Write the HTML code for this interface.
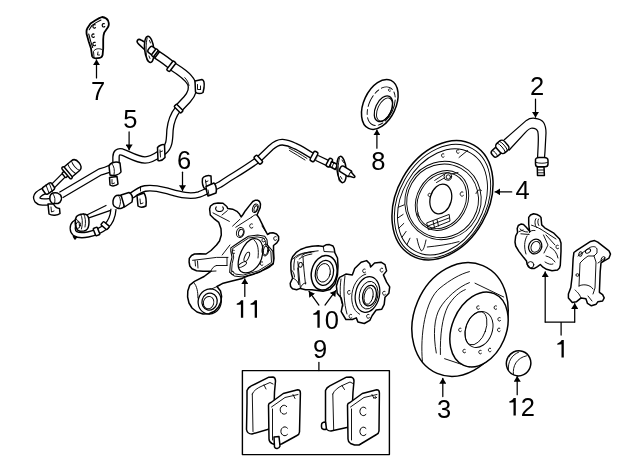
<!DOCTYPE html>
<html><head><meta charset="utf-8">
<style>
html,body{margin:0;padding:0;background:#fff;width:640px;height:471px;overflow:hidden}
svg{display:block}
.ln{fill:none;stroke:#000;stroke-width:1.25;stroke-linecap:round;stroke-linejoin:round}
.th{fill:none;stroke:#000;stroke-width:0.92;stroke-linecap:round;stroke-linejoin:round}
.f{fill:#fff;stroke:#000;stroke-width:1.5;stroke-linejoin:round;stroke-linecap:round}
.tb{fill:none;stroke:#000;stroke-width:7.6;stroke-linecap:butt;stroke-linejoin:round}
.tw{fill:none;stroke:#fff;stroke-width:5;stroke-linecap:butt;stroke-linejoin:round}
.tbu{fill:none;stroke:#000;stroke-width:9.4;stroke-linecap:butt;stroke-linejoin:round}
.twu{fill:none;stroke:#fff;stroke-width:6.8;stroke-linecap:butt;stroke-linejoin:round}
.tbs{fill:none;stroke:#000;stroke-width:5.8;stroke-linecap:butt;stroke-linejoin:round}
.tws{fill:none;stroke:#fff;stroke-width:3.3;stroke-linecap:butt;stroke-linejoin:round}
.tbh{fill:none;stroke:#000;stroke-width:8.6;stroke-linecap:butt;stroke-linejoin:round}
.tbm{fill:none;stroke:#000;stroke-width:6.4;stroke-linecap:butt;stroke-linejoin:round}
.twm{fill:none;stroke:#fff;stroke-width:3.8;stroke-linecap:butt;stroke-linejoin:round}
.tb6{fill:none;stroke:#000;stroke-width:6.9;stroke-linecap:butt;stroke-linejoin:round}
.tw6{fill:none;stroke:#fff;stroke-width:4.3;stroke-linecap:butt;stroke-linejoin:round}
.twh{fill:none;stroke:#fff;stroke-width:6;stroke-linecap:butt;stroke-linejoin:round}
text{font-family:"Liberation Sans",sans-serif;font-size:25.5px;fill:#000}
svg{will-change:transform}
</style></head>
<body>
<svg width="640" height="471" viewBox="0 0 640 471">
<defs>
<marker id="ah" viewBox="0 0 8 10" refX="7.5" refY="5" markerWidth="4.6" markerHeight="5.7" orient="auto-start-reverse"><path d="M0,0 L8,5 L0,10 z" fill="#000"/></marker>
<path id="tp1" d="M156.5,54.5 C162,58 168,62 172,66 C180,71 188,76 191.5,83 C194,89 192,94 187,99.5 L178,109"/>
<path id="tp2" d="M178,109 C174,114 171,120 170,130 C169.5,138 170,146 164,151 C158,155 152,160 145,160 C137,160 128,154 122,152 C118,151 116,153 116,157 L116,163 C114,168 108,170 100,172 L61,195"/>
<path id="tp3" d="M51,201.5 C46,202 40,203 37.5,200 C35,196 39,193 45,190.5"/>
<path id="tp4" d="M53,186 C57,182 59,180 63.5,175.5"/>
<path id="tp5" d="M317,158 L311,155 C305,151.5 300,148 295,146 C291,144 287,142.5 282.5,142.2 C278,142 275,144 271,147.5 L258.5,159.5 C252,164 244,169.5 235,174.9 C228,179 224,182 220,184.5 C212,188.5 206,192 199,194.5 C194,196 189,195.8 185,195.2 C178,194.2 172,192.2 165,190.4 C157,188.3 151,187.4 145,188.5 C140,189.5 136,192.5 131.5,195.7"/>
<path id="tp6" d="M317,158 L331,164.6"/>
<path id="tp7" d="M113.5,209 C113,216 111,222 106,226.5 C101,230.5 95,233 88,234.5 C83,235.5 78,235.5 75,233.5 C72,231 72,226 74.5,223.5 C76,222 78,222 80,222.5"/>
</defs>
<use href="#tp1" class="tbu"/><use href="#tp1" class="twu"/>
<use href="#tp2" class="tb"/><use href="#tp2" class="tw"/>
<use href="#tp3" class="tb"/><use href="#tp3" class="tw"/>
<use href="#tp4" class="tbs"/><use href="#tp4" class="tws"/>
<rect class="f" x="-1.8" y="-5.6" width="3.6" height="11.2" rx="1" transform="translate(171.3 66.3) rotate(37)"/>
<rect class="f" x="-1.8" y="-4.75" width="3.6" height="9.5" rx="1" transform="translate(178.6 108.6) rotate(-45)"/>
<path class="th" d="M184.8,77.6 C186.8,79.6 188.6,82.6 189,85.6"/>
<path class="f" d="M195,81 L202,79.5 C204,80 204.5,84 204,88 L203,92.5 C201,94 197,94 195.5,92 Z"/>
<path class="th" d="M197.5,84.5 L197.5,89.5 L200.5,89.5 M200.5,86 L200.5,89.5"/>
<path class="f" d="M157.5,147.5 C159.5,145 163,144 164.5,145 L165,157.5 C163,160 160,161 158,160.5 Z"/>
<path class="th" d="M160,150 L160.5,157 M160,152 L162.5,151"/>
<path class="f" d="M109,166 C110,162.5 116,161 120,163 L121,172 C119,175.5 113,176 110,175 Z"/>
<path class="th" d="M112,164 C114,166 115,170 114,175"/>
<path class="f" d="M109.5,177.5 L117,176.5 L118,184 C116,186 112,186.5 110,185 Z"/>
<path class="th" d="M112,179.5 L112,184 L114.5,183"/>
<g transform="translate(146.5 47) rotate(-143)">
<path class="f" d="M-1,-3.4 L8,-2.4 C10.5,-2.2 11.3,-1 11.3,0 C11.3,1 10.5,2.2 8,2.4 L-1,3.4 Z"/>
</g>
<ellipse class="f" cx="149.2" cy="49.3" rx="4.6" ry="13.2" transform="rotate(-6 149.2 49.3)"/>
<path class="th" d="M147.2,38 C145.7,43 145.6,55 147.4,61"/>
<path class="th" d="M149.5,40.5 L150.5,43 M149,56 L150,58.5"/>
<g transform="translate(150.5 49.5) rotate(37)">
<path class="f" d="M0,-3.6 L8.5,-3.6 L8.5,3.6 L0,3.6 C-1.2,3.6 -1.8,1.8 -1.8,0 C-1.8,-1.8 -1.2,-3.6 0,-3.6 Z"/>
<rect class="f" x="4" y="-4.2" width="2.8" height="8.4" rx="1.2"/>
</g>
<g transform="translate(72.5 168.2) rotate(-40)">
<rect class="f" x="-11.5" y="-3" width="4.5" height="6" rx="1"/>
<path class="f" d="M-6.5,-6.4 L4,-6.4 C7.2,-6.4 8.6,-3.2 8.6,0 C8.6,3.2 7.2,6.4 4,6.4 L-6.5,6.4 Z"/>
<path class="th" d="M4,-6.4 C2.2,-3 2.2,3 4,6.4 M-1,-6.4 C-2.1,-3 -2.1,3 -1,6.4"/>
<rect class="f" x="-8.5" y="-7.3" width="2.8" height="14.6" rx="1.4"/>
</g>
<rect class="f" x="-5.5" y="-4" width="11" height="8" rx="2" transform="translate(48.5 188.5) rotate(-35)"/>
<path class="th" d="M46,185 L49,193 M49.5,184 L52.5,192"/>
<path class="f" d="M50,196.5 C50.5,193.5 54,192.5 57.5,193 L60.5,195 C62.5,198 61.5,202 58,203.5 L52.5,203.5 C50.5,202 49.5,199 50,196.5 Z"/>
<path class="th" d="M53,194 C55,196.5 55.5,200 54.5,203.5"/>
<path class="f" d="M48,204 L53.5,204 C55,207 57.5,208.5 59.5,208.5 L60,213.5 C58,215.5 52,216 49,214 Z"/>
<path class="th" d="M51,207 L51.5,212 L54,211"/>
<use href="#tp5" class="tb6"/><use href="#tp5" class="tw6"/>
<use href="#tp6" class="tb6"/><use href="#tp6" class="tw6"/>
<use href="#tp7" class="tbm"/><use href="#tp7" class="twm"/>
<path class="ln" d="M87.3,214.8 L106,205.5 M88.2,218.1 L109.8,210.6"/>
<path class="th" d="M289,148 C295,151 301,154.5 307,158.5 M289.5,150.5 C295,153.5 300,157 305,160"/>
<path class="f" d="M76.5,216.5 C78.5,214 84,213.3 87,215 C88.8,217 89.3,221 88.8,225 C88.3,228.5 86.5,230.5 84,231 L80,231.2 C77,230.5 75.3,227.5 75.2,223 C75.1,220 75.5,218 76.5,216.5 Z"/>
<path class="th" d="M80.5,214 C82.5,217 83,223 81.5,229 M83.5,213.6 C85.5,217 86,222 85,227 M76,219 C78,220 79.5,222 79.5,226"/>
<ellipse class="th" cx="78.2" cy="225" rx="2.2" ry="3.4" transform="rotate(10 78.2 225)"/>
<path class="f" d="M73.5,236.5 L76.5,237 L75,239 Z"/>
<rect class="f" x="-2.2" y="-4" width="4.4" height="8" rx="1" transform="translate(96.5 231.5) rotate(-22)"/>
<rect class="f" x="-2.2" y="-4" width="4.4" height="8" rx="1" transform="translate(105.2 225.6) rotate(-50)"/>
<path class="f" d="M115,196.5 C117,194.5 121,195 123,197 L124.5,205.5 C123.5,208.5 120,209 117,208 L114,206 C112,203 113,198.5 115,196.5 Z"/>
<path class="f" d="M121,195 L129,192.5 C132,194 133,198 132,202 L124.5,207 Z"/>
<path class="th" d="M119,196.5 C121,199 121,203.5 119,207.5"/>
<path class="f" d="M137,195.5 L144,193 C146,196 146.5,201 146,206 C143,207.5 140,207.5 138,206 Z"/>
<path class="th" d="M140,199 L140.5,204 L143,203"/>
<path class="th" d="M140.5,186.5 L140.5,191"/>
<path class="f" d="M202.5,178.5 C203.5,176 208,175 211,176 L211.5,188 L205,189 C203,187 202,182.5 202.5,178.5 Z"/>
<path class="th" d="M205.5,180 L206.5,187 M205.5,182 L208,181"/>
<path class="f" d="M206,186.5 L214,183 C216,185 217,190 216,193 L208,196 C207,193 206,189 206,186.5 Z"/>
<path class="th" d="M208,190 L209,195"/>
<rect class="f" x="-2.1" y="-4.75" width="4.2" height="9.5" rx="1.5" transform="translate(258.3 159.7) rotate(-42)"/>
<rect class="f" x="-2.25" y="-5.25" width="4.5" height="10.5" rx="1.5" transform="translate(314 156.5) rotate(28)"/>
<rect class="f" x="-1.9" y="-4.4" width="3.8" height="8.8" rx="1.4" transform="translate(329.3 162.6) rotate(28)"/>
<path class="f" d="M331.5,161.5 L337.5,164.5 L335.3,169.5 L329.8,166.5 Z"/>
<path class="th" d="M333.8,162.7 L331.9,167.6"/>
<path class="f" d="M343.5,172.5 L345.5,167.5 L341.5,165 L339.3,170 Z"/>
<ellipse class="f" cx="341.6" cy="169.5" rx="4.6" ry="13.2" transform="rotate(-6 341.6 169.5)"/>
<path class="th" d="M339.5,158 C337.8,163 337.5,175 339.3,181"/>
<path class="th" d="M342,160 L343.5,162.5 M340.5,176.5 L342,179"/>
<g transform="translate(341.8 168.8) rotate(32)">
<path class="f" d="M0,-3.2 L9.5,-3.2 L10.5,-2 L15,-0.6 C15.6,0 15.6,0.6 15,1 L10.5,2.2 L9.5,3.2 L0,3.2 C-1.2,3.2 -1.8,1.6 -1.8,0 C-1.8,-1.6 -1.2,-3.2 0,-3.2 Z"/>
<path class="th" d="M9.5,-3.2 C9,-1 9,1 9.5,3.2"/>
</g>
<path d="M504.3,139.7 L526.4,120.4 C529,118.5 532,118 534.7,118.3 C539,118.8 542,120 543.6,122.5 C545.5,125.5 546,129 546,133 L545,151.4 L544.4,160 L537.5,160 L537.5,158.3 L538.2,144.5 C538.4,140 538.3,134 537.8,131.5 C537,129 535,128 532,128 C530,128.2 527.5,130 525,132.8 L509.2,150 Z" fill="#fff" stroke="none"/>
<path class="ln" d="M504.3,139.7 L526.4,120.4 C529,118.5 532,118 534.7,118.3 C539,118.8 542,120 543.6,122.5 C545.5,125.5 546,129 546,133 L545,151.4 L544.4,159"/>
<path class="ln" d="M509.2,150 L525,132.8 C527.5,130 530,128.2 532,128 C535,128 537,129 537.8,131.5 C538.3,134 538.4,140 538.2,144.5 L537.5,159"/>
<g transform="translate(501 148) rotate(-41)">
<rect class="f" x="-11" y="-4" width="10" height="8" rx="3"/>
<path class="th" d="M-8,-3.8 C-7,-1.5 -7,1.5 -8,3.8"/>
<rect class="f" x="-3.5" y="-6.2" width="10.5" height="12.4" rx="3.5"/>
<path class="th" d="M0.5,-6 C1.8,-3 1.8,3 0.5,6 M3.3,-6 C4.6,-3 4.6,3 3.3,6"/>
</g>
<path class="f" d="M535.5,160.5 C535,158.5 537,157.5 539,157.5 L544,157.5 C546.5,157.5 548,158.5 548,160.5 L548,164 C548,166 546.5,166.8 545,166.8 L538,166.8 C536.5,166.8 535.5,166 535.5,164 Z"/>
<path class="th" d="M536,162.5 C540,163.5 544,163.5 547.5,162.5"/>
<path class="f" d="M537.3,167 L544,167 L544.4,175.5 L537.5,175.5 Z"/>
<path class="th" d="M537.4,170 L544.2,170 M537.4,172.8 L544.3,172.8"/>
<g transform="translate(379.8 104.4) rotate(25)">
<ellipse class="f" cx="0" cy="0" rx="16" ry="26.5"/>
<ellipse class="th" cx="2" cy="1" rx="12.2" ry="20.5" stroke-dasharray="12 3 5 3"/>
<ellipse class="ln" cx="5.2" cy="2.4" rx="8" ry="13.7"/>
<ellipse class="th" cx="6.3" cy="2.6" rx="6.6" ry="12.3"/>
</g>
<path class="th" d="M390,89 c-1,-0.5 -2,0.5 -1.5,1.5 c0.5,1 1.5,1 2,0.5"/>
<ellipse class="f" cx="442.5" cy="200.2" rx="45.6" ry="63.4" transform="rotate(29.6 442.5 200.2)"/>
<ellipse class="th" cx="442.5" cy="201.2" rx="43.4568" ry="60.4202" transform="rotate(29.6 442.5 201.2)"/>
<ellipse class="th" cx="442.5" cy="201.9" rx="40.584" ry="56.426" transform="rotate(29.6 442.5 201.9)"/>
<ellipse class="th" cx="443" cy="200.5" rx="37.7" ry="39.5" transform="rotate(29.6 443 200.5)"/>
<ellipse class="th" cx="442.6" cy="200.8" rx="35.4" ry="37.2" transform="rotate(29.6 442.6 200.8)"/>
<ellipse class="th" cx="442" cy="200.5" rx="25.1" ry="31.2" transform="rotate(29.6 442 200.5)"/>
<ellipse class="th" cx="441.8" cy="200.7" rx="23.2" ry="29.2" transform="rotate(29.6 441.8 200.7)"/>
<path class="th" d="M406.9,244.7 L410.0,238.2"/>
<path class="th" d="M402.0,237.2 L406.1,231.4"/>
<path class="th" d="M398.8,228.2 L403.8,223.4"/>
<path class="th" d="M397.6,218.1 L403.1,214.4"/>
<path class="th" d="M398.3,207.2 L404.1,204.9"/>
<path class="th" d="M417,238.5 C418,243 419,248 421.5,251 C423.5,250 424.5,247 426,240 M459,157.5 L467.5,150.5 M427.3,247 C437,246 449,244.5 459,241.6"/>
<ellipse class="ln" cx="440.8" cy="199" rx="10.6" ry="15.2" transform="rotate(15 440.8 199)"/>
<ellipse class="th" cx="447.8" cy="176.5" rx="3.8" ry="3.8"/>
<ellipse class="th" cx="448.3" cy="177" rx="2.2" ry="2.2"/>
<path class="th" d="M434.7,180.4 L444,174.4 M436.5,182.5 L444.2,178 M452,174 L458,172.5"/>
<path class="th" d="M427,222.8 L449.2,214.4 L450,221.1 L428.8,229.6 Z M428,226 L449.5,217.8 M433,221 L434.5,227.5 M437,219.5 L438.5,226"/>
<path class="th" d="M476,193.5 C477,190 480,189 481.5,190.5 M418,213 c-1,1 -1,3 1,3.5"/>
<path class="th" d="M463.4,195.4 L462.5,196.1 L461.5,196.1 L460.7,195.5 L460.2,194.4 L460.3,193.2 L461.0,192.2 L461.9,191.8 L462.9,192.1"/>
<path class="th" d="M430.6,196.1 L429.9,196.6 L429.1,196.6 L428.5,196.1 L428.1,195.3 L428.2,194.4 L428.7,193.6 L429.4,193.3 L430.2,193.5"/>
<path class="th" d="M444.1,156.7 L443.5,157.2 L442.6,157.2 L441.9,156.7 L441.5,155.8 L441.6,154.8 L442.1,154.0 L442.9,153.7 L443.8,153.9"/>
<path class="th" d="M459.1,152.7 L458.5,153.2 L457.6,153.2 L456.9,152.7 L456.5,151.8 L456.6,150.8 L457.1,150.0 L457.9,149.7 L458.8,149.9"/>
<ellipse class="f" cx="460" cy="319.5" rx="46" ry="58.5" transform="rotate(23 460 319.5)"/>
<path class="th" d="M422.4,361.4 C420,335 425,300 440,288 C450,280 460,274 469.4,271.6"/>
<path class="th" d="M436.3,353 C433,335 434,318 440,308 C446,298 458,287 469.4,282.6"/>
<path class="th" d="M440.4,354.5 C440,335 442,318 448,306 C453,298 459,292 465.3,289.6"/>
<path class="th" d="M475,283.2 L503.7,297 M444.6,358.7 L469.4,367"/>
<ellipse class="f" cx="479" cy="329.5" rx="27" ry="39" transform="rotate(23 479 329.5)"/>
<ellipse class="ln" cx="479" cy="329.5" rx="13.3" ry="18.5" transform="rotate(20 479 329.5)" style="stroke-width:0.95"/>
<ellipse class="ln" cx="476" cy="328.2" rx="9.85" ry="17.4" transform="rotate(20 476 328.2)" style="stroke-width:0.85"/>
<path class="th" d="M479.3,308.8 L478.7,309.3 L477.8,309.3 L477.1,308.8 L476.7,307.9 L476.8,306.9 L477.3,306.1 L478.1,305.8 L478.9,306.0"/>
<path class="th" d="M496.7,308.8 L496.1,309.3 L495.2,309.3 L494.5,308.8 L494.1,307.9 L494.2,306.9 L494.7,306.1 L495.5,305.8 L496.4,306.0"/>
<path class="th" d="M500.5,320.5 L499.9,321.0 L499.0,321.0 L498.3,320.5 L497.9,319.6 L498.0,318.6 L498.5,317.8 L499.3,317.5 L500.1,317.7"/>
<path class="th" d="M500.1,331.1 L499.5,331.6 L498.6,331.6 L497.9,331.1 L497.5,330.2 L497.6,329.2 L498.1,328.4 L498.9,328.1 L499.8,328.3"/>
<path class="th" d="M461.3,331.1 L460.7,331.6 L459.8,331.6 L459.1,331.1 L458.7,330.2 L458.8,329.2 L459.3,328.4 L460.1,328.1 L460.9,328.3"/>
<path class="th" d="M465.5,352.3 L464.9,352.8 L464.0,352.8 L463.3,352.3 L462.9,351.4 L463.0,350.4 L463.5,349.6 L464.3,349.3 L465.1,349.5"/>
<path class="th" d="M481.4,353.3 L480.8,353.8 L479.9,353.8 L479.2,353.3 L478.8,352.4 L478.9,351.4 L479.4,350.6 L480.2,350.3 L481.1,350.5"/>
<path class="th" d="M491.0,351.2 L490.4,351.7 L489.5,351.7 L488.8,351.2 L488.4,350.3 L488.5,349.3 L489.0,348.5 L489.8,348.2 L490.6,348.4"/>
<ellipse class="f" cx="518.6" cy="363.3" rx="12.2" ry="12.6" transform="rotate(20 518.6 363.3)"/>
<path class="th" d="M508.4,369.5 C507.8,362 511.5,355 518.6,352.2 M513.4,374.5 C512.5,366 516.5,358 526.5,355.8"/>
<path class="f" d="M528.7,217.4 L530.5,215.0 L533.6,213.7 L537.0,214.5 L539.5,215.8 L541.0,217.4 L541.7,224.9 L544.7,227.8 L553.4,232.8 L559.6,239.0 L561.0,243.1 L561.0,251.4 L560.3,265.2 L559.5,268.0 L557.5,270.0 L552.0,270.7 L546.5,269.3 L543.0,267.2 L540.3,264.5 L537.5,266.6 L534.1,268.6 L531.5,268.6 L529.9,267.9 L527.2,264.5 L526.5,261.0 L523.7,257.6 L518.9,251.4 L515.7,246.0 L515.0,242.0 L515.7,236.0 L517.6,232.3 L517.2,228.5 L518.3,225.5 L520.9,224.1 L523.5,224.5 L526.5,227.5 L529.8,231.6 L529.2,228.5 L528.7,224.0 Z"/>
<ellipse class="ln" cx="535.2" cy="246.5" rx="6.4" ry="7.6" transform="rotate(25 535.2 246.5)"/>
<ellipse class="th" cx="535.6" cy="246.8" rx="4.4" ry="5.6" transform="rotate(25 535.6 246.8)"/>
<path class="th" d="M541,229.3 L556,239 M543.5,235 L548,245 L544,253 M546,235 L555,245 M531.5,225.2 C534,226 537,227 541,229.3 M520,229 C522,231 525,232 527.5,232 M527,236 C524,241 524,248 526,254 M529,233 C530,231 532,230 535,230.5 M546,256 C550,257 553,259 555,262 M550,247 C554,249 557,253 558,258 M545,262 C548,264 551,265 553,264 M519,231.6 L523.2,230 M520.9,233.8 L529.1,234.5"/>
<path class="th" d="M536,218.5 C534.5,220 534.5,225 536.5,227.5 M538.5,219 C537.5,220.5 537.5,223.5 538.8,225.5"/>
<ellipse class="th" cx="530.6" cy="264.8" rx="3.2" ry="3.2"/>
<path class="th" d="M558.6,248.2 L558.0,248.7 L557.1,248.7 L556.4,248.2 L556.0,247.3 L556.1,246.3 L556.6,245.5 L557.4,245.2 L558.2,245.4"/>
<path class="f" d="M573.9,252.5 L577.1,250.1 L590.6,241.4 L594.6,240.6 L597.8,242.2 L609.0,250.9 L610.5,254.1 L609.0,258.1 L603.4,261.3 L601.0,262.9 L600.2,271.6 L599.4,292.3 L602.6,294.7 L604.2,297.9 L602.6,301.0 L597.8,301.8 L596.2,304.2 L591.4,305.8 L587.5,303.4 L585.9,298.7 L581.1,297.9 L576.3,301.8 L572.3,302.6 L568.4,297.9 L568.4,293.9 L570.8,287.5 L572.3,274.8 L573.1,258.9 Z"/>
<path class="th" d="M578,256 L589,248 C592,246 596,246 597,249 L597,253 L594,256 L588,256 L584,259 L580,263 L579,286 M594,256 L596,262 L595,288 L593,294 M579,286 C582,284 590,284 593,289 M575,290 C577,292 579,293 581,297.9 M598,263 L605,258 M588,296 L592,301"/>
<ellipse class="th" cx="580.5" cy="254" rx="1.6" ry="2.3" transform="rotate(20 580.5 254)"/>
<ellipse class="th" cx="577.5" cy="275" rx="1.6" ry="1.3"/>
<ellipse class="th" cx="588" cy="251" rx="2.8" ry="1.8" transform="rotate(-30 588 251)"/>
<ellipse class="th" cx="603" cy="259" rx="1.6" ry="2.5" transform="rotate(30 603 259)"/>
<path class="f" d="M209.6,209.0 L210.5,206.0 L213.5,203.8 L218.0,203.0 L223.0,203.3 L226.8,206.5 L227.8,208.6 L232.6,209.2 L236.9,211.3 L239.5,214.0 L241.1,217.0 L243.0,214.5 L245.4,210.7 L249.6,205.4 L252.8,201.5 L255.0,200.3 L257.5,200.2 L259.5,201.5 L260.5,204.0 L260.2,207.6 L258.5,211.5 L257.0,215.0 L259.2,218.2 L264.5,228.8 L267.5,234.5 L270.0,233.0 L273.0,232.8 L276.5,234.0 L278.6,236.5 L278.6,240.0 L276.8,242.8 L273.5,245.5 L273.6,252.0 L274.0,258.5 L273.2,264.0 L270.0,266.5 L267.0,268.3 L261.2,271.2 L253.4,274.2 L247.5,276.1 L242.3,278.4 L232.0,281.0 L223.2,283.2 L217.0,286.5 L220.5,291.0 L221.6,296.4 L220.8,302.0 L218.5,307.0 L214.5,311.2 L209.0,313.7 L203.0,314.0 L197.0,312.0 L192.0,308.0 L189.0,303.0 L187.6,297.0 L187.8,291.0 L189.8,285.1 L194.5,281.3 L204.1,276.5 L210.8,271.3 L203.0,271.2 L196.5,270.8 L192.0,268.8 L189.8,266.0 L189.1,262.0 L189.3,258.4 L191.5,255.5 L194.5,254.0 L200.0,253.8 L206.0,254.0 L211.0,250.5 L216.5,245.0 L219.5,241.0 L221.3,235.0 L221.0,228.8 L218.8,222.4 L214.6,219.2 L210.3,215.0 Z"/>
<ellipse class="ln" cx="209.7" cy="301.5" rx="11.5" ry="12.7" transform="rotate(15 209.7 301.5)"/>
<ellipse class="ln" cx="209.6" cy="301.6" rx="7.6" ry="8.6" transform="rotate(15 209.6 301.6)"/>
<ellipse class="th" cx="208.6" cy="302.6" rx="5.2" ry="6.2" transform="rotate(15 208.6 302.6)"/>
<path class="th" d="M193.8,282.6 C197,286 198,292 197.9,298 M210.8,271.3 L216,271 M217,286.5 C214,288 212,289 210,289"/>
<path class="th" d="M192.6,260.3 L204,259 L216.5,257.4 L228,257.4 M216.5,265.5 L227,265.5 M227,257.4 L227,265.5 M195,260.5 L195.5,266 M197.5,261 L198,268 M216.5,265.5 C214,266 212,268 210.8,271.3"/>
<path class="th" d="M222.2,255 L229.9,245"/>
<path class="th" style="stroke-width:1.05" d="M230.8,247.9 L234.3,245.5 L241.3,240.8 L248.4,236.2 L257.7,235.0 L264.7,236.2 L267.0,239.7 L267.5,245.0 L272.9,251.4 L273.5,263.0 L268.2,266.5 L258.9,272.4 L250.7,274.7 L242.5,277.0 L234.3,275.9 L229.7,272.4 L230.3,264.2 L232.0,257.2 L230.8,251.4 Z"/>
<path class="th" d="M232.6,248.6 L235.8,246.4 L242.2,242.2 L248.6,238.0 L257.1,236.9 L263.5,238.0 L265.6,241.2 L266.0,246.0 L270.9,251.8 L271.5,262.4 L266.7,265.6 L258.2,270.9 L250.7,273.0 L243.3,275.1 L235.8,274.1 L231.6,270.9 L232.2,263.5 L233.7,257.1 L232.6,251.8 Z"/>
<path class="th" d="M234.6,253.2 L234.0,253.7 L233.1,253.7 L232.4,253.2 L232.0,252.3 L232.1,251.3 L232.6,250.5 L233.4,250.2 L234.2,250.4"/>
<path class="th" d="M233.6,274.2 L233.0,274.7 L232.1,274.7 L231.4,274.2 L231.0,273.3 L231.1,272.3 L231.6,271.5 L232.4,271.2 L233.2,271.4"/>
<path class="th" d="M264.6,241.4 L264.0,241.9 L263.1,241.9 L262.4,241.4 L262.0,240.5 L262.1,239.5 L262.6,238.7 L263.4,238.4 L264.2,238.6"/>
<path class="th" d="M262.9,264.8 L262.3,265.3 L261.4,265.3 L260.7,264.8 L260.3,263.9 L260.4,262.9 L260.9,262.1 L261.7,261.8 L262.6,262.0"/>
<path class="ln" d="M250.6,239.6 C246,242 241,250 239,258 C237.5,264 238,269 241,271.5 C244,273.5 249,273 253,270.5 C258,267 262,262 262.8,252 C263.2,245 261.5,240.5 257,239 C254.5,238.3 252.5,238.7 250.6,239.6 Z"/>
<ellipse class="th" cx="246.8" cy="256.8" rx="2" ry="5" transform="rotate(25 246.8 256.8)"/>
<ellipse class="th" cx="242.5" cy="264.5" rx="4.5" ry="1.8" transform="rotate(-30 242.5 264.5)"/>
<path class="th" d="M254,240 C258,243 259,250 258,258"/>
<ellipse class="th" cx="265.4" cy="250" rx="3.4" ry="6" transform="rotate(5 265.4 250)"/>
<ellipse class="th" cx="265.6" cy="250.5" rx="2.2" ry="4.5" transform="rotate(5 265.6 250.5)"/>
<ellipse class="th" cx="240.3" cy="232.5" rx="3.8" ry="5" transform="rotate(15 240.3 232.5)"/>
<ellipse class="th" cx="240.9" cy="232.8" rx="2.4" ry="3.6" transform="rotate(15 240.9 232.8)"/>
<path class="th" d="M213,212.9 L229.4,221.4 M222,215 L227.3,210.7 M232.6,226.1 L240,219.2 M235.8,227.2 L251.7,217.1 M251.7,217.1 C254,215 256,214 257,215 M262,226 L266,232"/>
<path class="th" d="M222.7,206.9 L223.2,207.7 L223.4,208.6 L223.2,209.5 L222.6,210.3 L221.8,211.0 L220.7,211.4 L219.5,211.5 L218.3,211.4 L217.2,211.0 L216.4,210.3 L215.8,209.5 L215.6,208.6 L215.8,207.7 L216.3,206.9" style="stroke-width:1.1"/>
<ellipse class="th" cx="255.3" cy="208.3" rx="2.6" ry="4.4" transform="rotate(20 255.3 208.3)"/>
<ellipse class="th" cx="255.7" cy="208.6" rx="1.5" ry="3" transform="rotate(20 255.7 208.6)"/>
<path class="th" d="M276.5,239.7 L275.8,240.3 L274.9,240.4 L274.1,239.8 L273.7,238.8 L273.8,237.8 L274.4,236.9 L275.2,236.6 L276.1,236.8"/>
<path class="th" d="M252.9,227.4 L252.0,228.1 L251.0,228.1 L250.2,227.5 L249.7,226.4 L249.8,225.2 L250.5,224.2 L251.4,223.8 L252.4,224.1"/>
<path class="f" d="M296.6,252.1 L300.5,249.5 L305.5,247.6 L312.0,246.3 L318.2,245.7 L323.3,246.4 L326.0,244.8 L329.5,244.6 L333.0,246.0 L334.2,248.5 L334.8,252.7 L337.5,258.0 L338.0,266.0 L337.5,275.0 L335.0,284.0 L330.0,289.5 L323.0,291.2 L311.9,289.7 L305.5,289.7 L300.4,288.4 L296.6,289.7 L292.5,288.8 L290.6,286.5 L290.2,283.3 L291.5,280.5 L292.7,278.2 L291.5,274.0 L291.0,270.6 L290.8,263.0 L291.5,259.5 L292.7,256.6 Z"/>
<path class="th" d="M296.5,257.5 C300,254 306,252 314,251.7 M297.7,268 L298.8,284.4 M295,258 C294,262 293.5,266 294,270 M301.5,256 C303,254 307,252.5 311,252.5 M323.3,246.4 L324,251.5 L333.5,252 M292.7,278.2 C295,279 297,280 298.8,284.4 M300.4,288.4 C301.5,285 303,283 306,283"/>
<ellipse class="th" cx="300.5" cy="264.8" rx="1.8" ry="2.4" transform="rotate(15 300.5 264.8)"/>
<path class="th" d="M292.7,259.1 C296,255.5 300,253.5 305.5,252.7 C310,252 314,251.2 318.2,250.8 M299.1,259.1 C302,256.5 306,255 311.9,254 M297.8,261.7 C298.5,270 299.5,280 300.4,288.4 M303,257 C303.5,266 304.5,276 305.5,284 M291.5,270 C293,271.5 294.5,274 294.5,277"/>
<ellipse class="f" cx="324.2" cy="272.8" rx="12.7" ry="17.5" transform="rotate(13 324.2 272.8)"/>
<ellipse class="ln" cx="324.4" cy="272.8" rx="9" ry="12.6" transform="rotate(13 324.4 272.8)"/>
<ellipse class="th" cx="323.6" cy="272.8" rx="6.6" ry="9.4" transform="rotate(13 323.6 272.8)"/>
<path class="f" d="M339.6,277.3 L345.9,274.1 L352.3,274.9 L354.7,268.5 L361.1,262.2 L366.6,260.6 L369.8,263.8 L370.6,267.0 L374.6,263.0 L381.0,262.2 L385.0,264.6 L386.6,270.9 L383.4,274.9 L386.6,282.1 L389.7,286.9 L388.9,293.2 L385.0,297.2 L384.2,304.4 L381.8,309.2 L376.2,310.0 L372.2,315.5 L369.8,320.3 L364.3,323.5 L357.9,321.9 L356.3,317.9 L352.3,319.5 L345.9,319.5 L343.5,315.5 L341.2,311.6 L342.7,304.4 L341.2,298.0 L337.2,293.2 L336.4,286.1 L338.0,280.5 Z"/>
<path class="th" d="M341,279 C339.5,290 340,300 343,306 M345,276 C343,290 344,303 347,314"/>
<ellipse class="ln" cx="367.5" cy="294.5" rx="12" ry="18" transform="rotate(12 367.5 294.5)"/>
<ellipse class="th" cx="368.6" cy="295.2" rx="9.2" ry="14" transform="rotate(12 368.6 295.2)"/>
<ellipse class="ln" cx="369.5" cy="295.6" rx="6.8" ry="10.4" transform="rotate(12 369.5 295.6)"/>
<ellipse class="th" cx="368.6" cy="296" rx="4.4" ry="8.4" transform="rotate(12 368.6 296)"/>
<path class="th" d="M359.7,314.2 L357.4,312.6 L355.4,310.5 L353.7,307.7 L352.6,304.5 L351.9,300.9 L351.7,297.2 L352.0,293.3 L352.8,289.5 L354.1,285.8 L355.9,282.4 L358.0,279.5 L360.4,277.1 L363.0,275.3 L365.8,274.2"/>
<path class="th" d="M365.5,272.1 L364.8,272.7 L363.9,272.8 L363.1,272.2 L362.7,271.2 L362.8,270.2 L363.4,269.3 L364.2,269.0 L365.1,269.2"/>
<path class="th" d="M383.0,271.3 L382.3,271.9 L381.4,272.0 L380.6,271.4 L380.2,270.4 L380.3,269.4 L380.9,268.5 L381.7,268.2 L382.6,268.4"/>
<path class="th" d="M350.3,293.6 L349.6,294.2 L348.7,294.3 L347.9,293.7 L347.5,292.7 L347.6,291.7 L348.2,290.8 L349.0,290.5 L349.9,290.7"/>
<path class="th" d="M385.4,294.4 L384.7,295.0 L383.8,295.1 L383.0,294.5 L382.6,293.5 L382.7,292.5 L383.3,291.6 L384.1,291.3 L385.0,291.5"/>
<path class="th" d="M351.9,317.5 L351.2,318.1 L350.3,318.2 L349.5,317.6 L349.1,316.6 L349.2,315.6 L349.8,314.7 L350.6,314.4 L351.5,314.6"/>
<path class="th" d="M369.4,317.5 L368.7,318.1 L367.8,318.2 L367.0,317.6 L366.6,316.6 L366.7,315.6 L367.3,314.7 L368.1,314.4 L369.0,314.6"/>
<rect class="ln" x="242.4" y="370.6" width="147" height="84" style="stroke-width:1.4"/>
<path class="ln" d="M318.9,362.4 L318.9,370.6"/>
<path class="f" d="M247,390.5 C248,388 249,387 250.8,386.2 L268.9,377.2 L273,377 C275,377.5 275.5,379 275.5,381 L274.5,392 L273.4,427.7 L252,434 C249,434 247,432.5 246.5,429.5 L247,402.5 Z"/>
<path class="th" d="M252.3,394 C253.5,390.5 257.5,388 262,386 L270,382.5 L273,384 M252.3,394 L253,431.5 M264,385 L266,389"/>
<path class="f" d="M325.5,390.5 C326.5,388 327.5,387 329.3,386.2 L346.5,377.2 L351,377 C353,377.5 354,379 354,381 L353,392 L351.4,426.6 L331,431 C328,431 326,429.5 325.5,426.5 L325.5,402.5 Z"/>
<path class="th" d="M332.8,394 C334,390.5 338,387.5 342,385.6 L350,382 L353,383.5 M332.8,394 L333.7,430.3 M342,385.6 L344.5,389.5"/>
<path class="f" d="M321.5,425 C321.5,423 323.5,422 325.5,422 L326.5,429 C324.5,430 321.5,429.5 321.5,427 Z"/>
<path class="f" d="M268.5,405 C268.5,403.5 269.5,403 271,402.5 L283.3,393.5 L297.7,389.8 C299.5,389.8 300.4,391 300.4,393 L299.5,432 C299.3,434 298.5,435 297,435.5 L281.5,444 L276,445 L272,443.5 C270,442.5 269,441 269,439 Z"/>
<path class="th" d="M271.5,407 L285,397.5 L298,394.5 M272.5,409 L272.5,440 M293,394.5 L295,398.5"/>
<path class="th" d="M286.7,412.8 L285.6,413.7 L284.4,414.1 L283.2,414.0 L282.0,413.4 L281.0,412.4 L280.4,411.2 L280.2,409.7 L280.4,408.2 L281.0,407.0 L282.0,406.0 L283.2,405.4 L284.4,405.3 L285.6,405.7 L286.7,406.6" style="stroke-width:1"/>
<path class="th" d="M287.4,434.4 L286.3,435.3 L285.1,435.7 L283.9,435.6 L282.7,435.0 L281.7,434.0 L281.1,432.8 L280.9,431.3 L281.1,429.8 L281.7,428.6 L282.7,427.6 L283.9,427.0 L285.1,426.9 L286.3,427.3 L287.4,428.2" style="stroke-width:1"/>
<path class="f" d="M274,437 L279,436.5 L280,446 C279,449 275.5,449.5 274.5,447 Z"/>
<path class="f" d="M347.5,405 C347.5,403.5 348.5,403 350,402.5 L362.3,393.5 L376.7,389.8 C378.5,389.8 379.4,391 379.4,393 L379,431 C378.8,433 378,434 376.5,434.5 L359,445 L354.5,445 L350.5,443.5 C349,442.5 348,441 348,439 Z"/>
<path class="th" d="M350.5,407 L364,397.5 L377,394.5 M351.5,409 L351.5,440 M372,394.5 L374,398.5"/>
<path class="th" d="M365.9,414.4 L364.9,415.2 L363.8,415.6 L362.6,415.5 L361.5,415.0 L360.7,414.0 L360.1,412.8 L359.9,411.4 L360.1,410.0 L360.7,408.8 L361.5,407.8 L362.6,407.3 L363.8,407.2 L364.9,407.6 L365.9,408.4" style="stroke-width:1"/>
<path class="th" d="M365.9,434.4 L364.9,435.2 L363.8,435.6 L362.6,435.5 L361.5,435.0 L360.7,434.0 L360.1,432.8 L359.9,431.4 L360.1,430.0 L360.7,428.8 L361.5,427.8 L362.6,427.3 L363.8,427.2 L364.9,427.6 L365.9,428.4" style="stroke-width:1"/>
<ellipse class="th" cx="375.5" cy="397.5" rx="0.8" ry="0.8"/>
<path class="f" style="stroke-width:1.8" d="M102.1,17 C105,17.5 107,18.5 108,20.5 C109.5,24 108.5,27 107,28.6 L104.3,32.4 C103.3,35 103.2,37 103.2,39.6 L103.2,48.4 L102.6,55.1 C102,57 101,57.8 99.9,57.8 L95.5,58.4 C93.5,58 92.5,57.5 92.1,56.2 L91,48.4 L88.8,41.8 L86.6,34.1 C86.3,31 86.5,29.5 87.2,28.6 L90.5,23.6 L95.5,20.3 L99.3,18.1 Z"/>
<path class="th" style="stroke-width:1.05" d="M89.2,29.8 L92,25.4 L96.5,22.4 L101,20 M88.7,34 L90.7,41.3 L92.7,47.5"/>
<path class="th" d="M94,57 L93.5,51.5 C95,48.5 99,48 102,49.5"/>
<path class="th" d="M98,52 L97.5,55 L99.5,55"/>
<path class="th" d="M95.5,27.6 L94.9,28.1 L94.0,28.1 L93.3,27.6 L92.9,26.7 L93.0,25.7 L93.5,24.9 L94.3,24.6 L95.2,24.8" style="stroke-width:1.15"/>
<path class="th" d="M104.8,26.5 L104.2,27.0 L103.3,27.0 L102.6,26.5 L102.2,25.6 L102.3,24.6 L102.8,23.8 L103.6,23.5 L104.5,23.7" style="stroke-width:1.15"/>
<path class="th" d="M94.4,36.9 L93.8,37.4 L92.9,37.4 L92.2,36.9 L91.8,36.0 L91.9,35.0 L92.4,34.2 L93.2,33.9 L94.0,34.1" style="stroke-width:1.15"/>
<path class="th" d="M95.5,45.2 L94.9,45.7 L94.0,45.7 L93.3,45.2 L92.9,44.3 L93.0,43.3 L93.5,42.5 L94.3,42.2 L95.2,42.4" style="stroke-width:1.15"/>
<g class="ln">
<path d="M96.5,77.9 L96.5,59.9" marker-end="url(#ah)"/>
<path d="M129.1,131.9 L129.1,149.8" marker-end="url(#ah)"/>
<path d="M182.5,172.2 L182.5,190.6" marker-end="url(#ah)"/>
<path d="M535.5,99.1 L535.5,117.2" marker-end="url(#ah)"/>
<path d="M376.9,148.2 L376.9,129.9" marker-end="url(#ah)"/>
<path d="M511.7,191.9 L495,191.9" marker-end="url(#ah)"/>
<path d="M545.2,322.1 L545.2,271.8" marker-end="url(#ah)"/>
<path d="M574.7,322.1 L574.7,303.7" marker-end="url(#ah)"/>
<path d="M442.8,396.5 L442.8,378.4" marker-end="url(#ah)"/>
<path d="M517.2,394.7 L517.2,376.4" marker-end="url(#ah)"/>
<path d="M244.8,296.4 L244.8,278.8" marker-end="url(#ah)"/>
<path d="M318.9,305.1 L309,291.4" marker-end="url(#ah)"/>
<path d="M325,305.1 L335.7,290.7" marker-end="url(#ah)"/>
<path d="M545.2,322.1 L574.7,322.1 M561.1,322.1 L561.1,335.1"/>
</g>
<text x="91" y="100.4">7</text>
<text x="123.2" y="128">5</text>
<text x="177" y="168.6">6</text>
<text x="529.9" y="94.7">2</text>
<text x="371.3" y="170.4">8</text>
<text x="515.5" y="199">4</text>
<text x="436.9" y="418.2">3</text>
<text x="520.7" y="416.4">2</text>
<text x="324.7" y="328.7">0</text>
<text x="312.9" y="358">9</text>
<path d="M563.80,340.10 L563.80,357.60 L561.50,357.60 L561.50,344.30 L560.00,344.60 C559.00,344.70 558.00,344.80 557.30,344.70 L557.40,343.40 C559.40,342.70 561.10,341.60 561.60,340.10 Z" fill="#000"/>
<path d="M515.80,398.00 L515.80,415.50 L513.50,415.50 L513.50,402.20 L512.00,402.50 C511.00,402.60 510.00,402.70 509.30,402.60 L509.40,401.30 C511.40,400.60 513.10,399.50 513.60,398.00 Z" fill="#000"/>
<path d="M243.20,300.20 L243.20,317.70 L240.90,317.70 L240.90,304.40 L239.40,304.70 C238.40,304.80 237.40,304.90 236.70,304.80 L236.80,303.50 C238.80,302.80 240.50,301.70 241.00,300.20 Z" fill="#000"/>
<path d="M257.00,300.20 L257.00,317.70 L254.70,317.70 L254.70,304.40 L253.20,304.70 C252.20,304.80 251.20,304.90 250.50,304.80 L250.60,303.50 C252.60,302.80 254.30,301.70 254.80,300.20 Z" fill="#000"/>
<path d="M319.70,310.20 L319.70,327.70 L317.40,327.70 L317.40,314.40 L315.90,314.70 C314.90,314.80 313.90,314.90 313.20,314.80 L313.30,313.50 C315.30,312.80 317.00,311.70 317.50,310.20 Z" fill="#000"/>
</svg>
</body></html>
